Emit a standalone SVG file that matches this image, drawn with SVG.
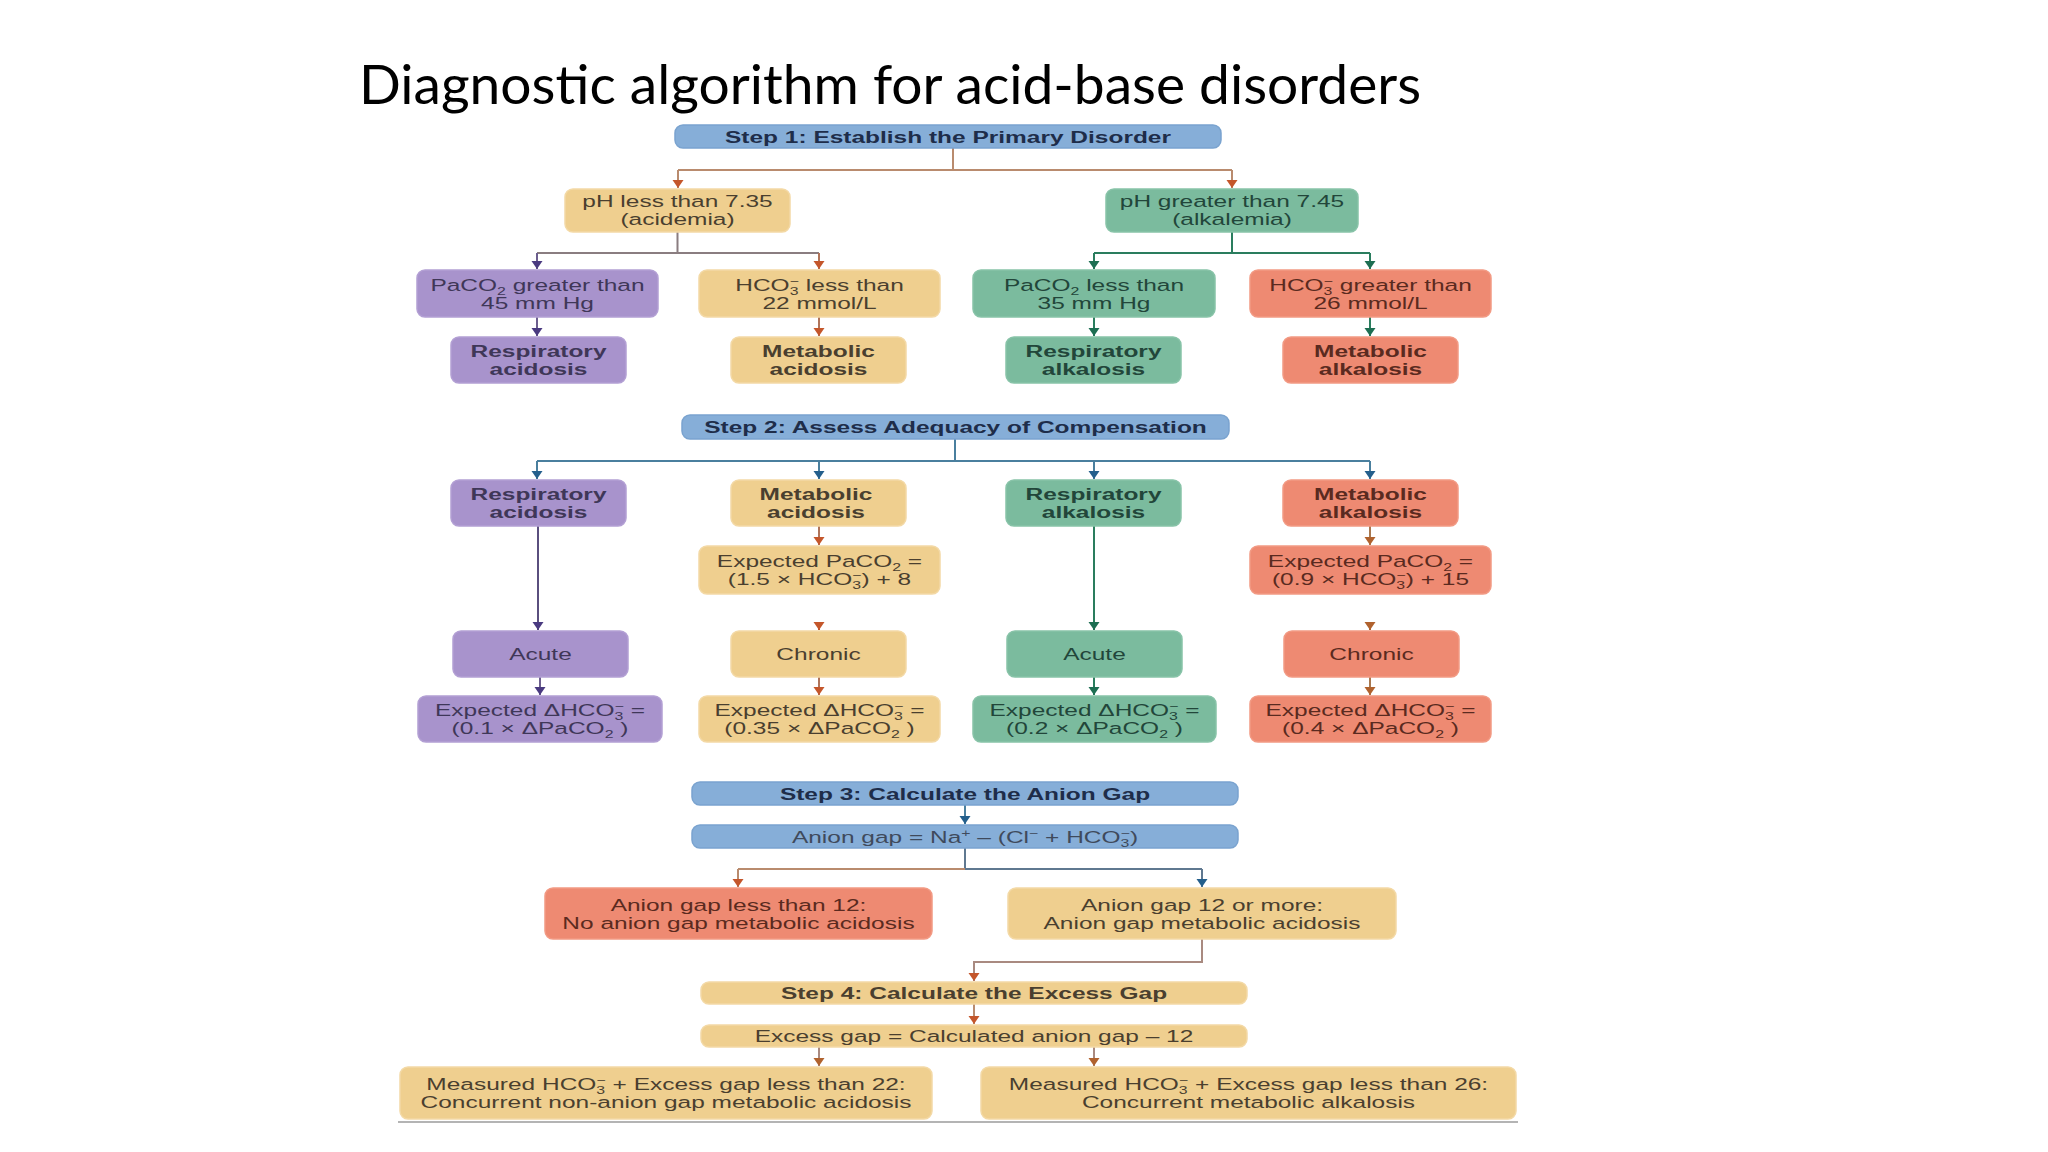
<svg xmlns="http://www.w3.org/2000/svg" width="2048" height="1152" viewBox="0 0 2048 1152">
<style>
.title{font-family:Lato,"Open Sans","Liberation Sans",sans-serif;font-size:55px;fill:#000}
.t{font-family:"Liberation Sans",Arial,sans-serif;font-size:17px;text-anchor:middle}
.b{font-weight:bold}
.s{font-size:11px}
.blue{fill:#86aed8;stroke:#7aa3cf;stroke-width:1.5}
.tan{fill:#efcf8f;stroke:#f3d9a6;stroke-width:1.5}
.pur{fill:#a893cc;stroke:#b3a0d4;stroke-width:1.5}
.grn{fill:#7bbb9e;stroke:#88c3a8;stroke-width:1.5}
.sal{fill:#ee8a72;stroke:#f29a84;stroke-width:1.5}
.tb{fill:#1e2d4a}
.tt{fill:#4a3f2f}
.tp{fill:#3f3758}
.tg{fill:#22463a}
.ts{fill:#5a2a20}
.tbr{fill:#3f4a5c}
.c{fill:none;stroke-width:2}
</style>
<defs>
<marker id="aO" markerUnits="userSpaceOnUse" markerWidth="12" markerHeight="12" refX="8" refY="5.5" orient="auto"><path d="M0,0 L8,5.5 L0,11 z" fill="#c4562b"/></marker>
<marker id="aP" markerUnits="userSpaceOnUse" markerWidth="12" markerHeight="12" refX="8" refY="5.5" orient="auto"><path d="M0,0 L8,5.5 L0,11 z" fill="#4a3a80"/></marker>
<marker id="aG" markerUnits="userSpaceOnUse" markerWidth="12" markerHeight="12" refX="8" refY="5.5" orient="auto"><path d="M0,0 L8,5.5 L0,11 z" fill="#1d6e52"/></marker>
<marker id="aB" markerUnits="userSpaceOnUse" markerWidth="12" markerHeight="12" refX="8" refY="5.5" orient="auto"><path d="M0,0 L8,5.5 L0,11 z" fill="#245f8c"/></marker>
<marker id="aBr" markerUnits="userSpaceOnUse" markerWidth="12" markerHeight="12" refX="8" refY="5.5" orient="auto"><path d="M0,0 L8,5.5 L0,11 z" fill="#b0622e"/></marker>
</defs>
<rect width="2048" height="1152" fill="#ffffff"/>
<text class="title" x="359" y="104" textLength="1062" lengthAdjust="spacingAndGlyphs">Diagnostic algorithm for acid-base disorders</text>

<g id="connectors">
<path class="c" stroke="#b98b6e" d="M953,148 V170 M678,170 H1232"/>
<path class="c" stroke="#b98b6e" d="M678,170 V188" marker-end="url(#aO)"/>
<path class="c" stroke="#b98b6e" d="M1232,170 V188" marker-end="url(#aO)"/>
<path class="c" stroke="#8a7d80" d="M677.5,232 V253 M537,253 H819"/>
<path class="c" stroke="#6c5e8e" d="M537,253 V269" marker-end="url(#aP)"/>
<path class="c" stroke="#b0745a" d="M819,253 V269" marker-end="url(#aO)"/>
<path class="c" stroke="#2a7d5e" d="M1232,232 V253 M1094,253 H1370"/>
<path class="c" stroke="#2a7d5e" d="M1094,253 V269" marker-end="url(#aG)"/>
<path class="c" stroke="#2a7d5e" d="M1370,253 V269" marker-end="url(#aG)"/>
<path class="c" stroke="#6c5e8e" d="M537,317 V336" marker-end="url(#aP)"/>
<path class="c" stroke="#b0745a" d="M819,317 V336" marker-end="url(#aO)"/>
<path class="c" stroke="#2a7d5e" d="M1094,317 V336" marker-end="url(#aG)"/>
<path class="c" stroke="#2a7d5e" d="M1370,317 V336" marker-end="url(#aG)"/>
<path class="c" stroke="#4a7f9e" d="M955,439 V461 M537,461 H1370"/>
<path class="c" stroke="#4a7f9e" d="M537,461 V479" marker-end="url(#aB)"/>
<path class="c" stroke="#4a7f9e" d="M819,461 V479" marker-end="url(#aB)"/>
<path class="c" stroke="#4a7f9e" d="M1094,461 V479" marker-end="url(#aB)"/>
<path class="c" stroke="#4a7f9e" d="M1370,461 V479" marker-end="url(#aB)"/>
<path class="c" stroke="#5a4f7e" d="M538,526 V630" marker-end="url(#aP)"/>
<path class="c" stroke="#b0745a" d="M819,526 V545" marker-end="url(#aO)"/>
<path class="c" stroke="#c4562b" d="M819,623 V630" marker-end="url(#aO)"/>
<path class="c" stroke="#2a7d5e" d="M1094,526 V630" marker-end="url(#aG)"/>
<path class="c" stroke="#a87850" d="M1370,526 V545" marker-end="url(#aBr)"/>
<path class="c" stroke="#b0622e" d="M1370,623 V630" marker-end="url(#aBr)"/>
<path class="c" stroke="#6c5e8e" d="M540,677 V695" marker-end="url(#aP)"/>
<path class="c" stroke="#b0745a" d="M819,677 V695" marker-end="url(#aO)"/>
<path class="c" stroke="#2a7d5e" d="M1094,677 V695" marker-end="url(#aG)"/>
<path class="c" stroke="#a87850" d="M1370,677 V695" marker-end="url(#aBr)"/>
<path class="c" stroke="#4a7f9e" d="M965,805 V824" marker-end="url(#aB)"/>
<path class="c" stroke="#5f7890" d="M965,848 V869 M965,869 H1202"/>
<path class="c" stroke="#b98b6e" d="M965,869 H738"/>
<path class="c" stroke="#b98b6e" d="M738,869 V887" marker-end="url(#aO)"/>
<path class="c" stroke="#5f7890" d="M1202,869 V887" marker-end="url(#aB)"/>
<path class="c" stroke="#a98a80" d="M1202,939 V962 H974 V981" marker-end="url(#aO)"/>
<path class="c" stroke="#b98b6e" d="M974,1004 V1024" marker-end="url(#aO)"/>
<path class="c" stroke="#a98a80" d="M819,1047 V1066" marker-end="url(#aBr)"/>
<path class="c" stroke="#a98a80" d="M1094,1047 V1066" marker-end="url(#aBr)"/>
<path d="M398,1122 H1518" stroke="#b4b4b4" stroke-width="2" fill="none"/>
</g>

<g id="step1"><rect class="blue" x="675" y="125" width="546" height="23" rx="8"/>
<text class="t b tb" transform="translate(948,142.5) scale(1.44,1)">Step 1: Establish the Primary Disorder</text></g>

<g id="ph-low"><rect class="tan" x="565" y="189" width="225" height="43" rx="8"/>
<text class="t tt" transform="translate(677.5,207) scale(1.44,1)">pH less than 7.35<tspan x="0" dy="18.3">(acidemia)</tspan></text></g>

<g id="ph-high"><rect class="grn" x="1106" y="189" width="252" height="43" rx="8"/>
<text class="t tg" transform="translate(1232,207) scale(1.44,1)">pH greater than 7.45<tspan x="0" dy="18.3">(alkalemia)</tspan></text></g>

<g id="paco2-high"><rect class="pur" x="417" y="270" width="241" height="47" rx="8"/>
<text class="t tp" transform="translate(537.5,290.5) scale(1.44,1)">PaCO<tspan class="s" dy="4">2</tspan><tspan dy="-4"> greater than</tspan><tspan x="0" dy="18.3">45 mm Hg</tspan></text></g>

<g id="hco3-low"><rect class="tan" x="699" y="270" width="241" height="47" rx="8"/>
<text class="t tt" transform="translate(819.5,290.5) scale(1.44,1)">HCO<tspan class="s" dy="4">3</tspan><tspan class="s" dx="-6" dy="-10">−</tspan><tspan dy="6"> less than</tspan><tspan x="0" dy="18.3">22 mmol/L</tspan></text></g>

<g id="paco2-low"><rect class="grn" x="973" y="270" width="242" height="47" rx="8"/>
<text class="t tg" transform="translate(1094,290.5) scale(1.44,1)">PaCO<tspan class="s" dy="4">2</tspan><tspan dy="-4">  less than</tspan><tspan x="0" dy="18.3">35 mm Hg</tspan></text></g>

<g id="hco3-high"><rect class="sal" x="1250" y="270" width="241" height="47" rx="8"/>
<text class="t ts" transform="translate(1370.5,290.5) scale(1.44,1)">HCO<tspan class="s" dy="4">3</tspan><tspan class="s" dx="-6" dy="-10">−</tspan><tspan dy="6"> greater than</tspan><tspan x="0" dy="18.3">26 mmol/L</tspan></text></g>

<g id="resp-acidosis-1"><rect class="pur" x="451" y="337" width="175" height="46" rx="8"/>
<text class="t b tp" transform="translate(538.5,357) scale(1.44,1)">Respiratory<tspan x="0" dy="18.3">acidosis</tspan></text></g>
<g id="met-acidosis-1"><rect class="tan" x="731" y="337" width="175" height="46" rx="8"/>
<text class="t b tt" transform="translate(818.5,357) scale(1.44,1)">Metabolic<tspan x="0" dy="18.3">acidosis</tspan></text></g>
<g id="resp-alkalosis-1"><rect class="grn" x="1006" y="337" width="175" height="46" rx="8"/>
<text class="t b tg" transform="translate(1093.5,357) scale(1.44,1)">Respiratory<tspan x="0" dy="18.3">alkalosis</tspan></text></g>
<g id="met-alkalosis-1"><rect class="sal" x="1283" y="337" width="175" height="46" rx="8"/>
<text class="t b ts" transform="translate(1370.5,357) scale(1.44,1)">Metabolic<tspan x="0" dy="18.3">alkalosis</tspan></text></g>

<g id="step2"><rect class="blue" x="682" y="415" width="547" height="24" rx="8"/>
<text class="t b tb" transform="translate(955.5,433) scale(1.44,1)">Step 2: Assess Adequacy of Compensation</text></g>

<g id="resp-acidosis-2"><rect class="pur" x="451" y="480" width="175" height="46" rx="8"/>
<text class="t b tp" transform="translate(538.5,500) scale(1.44,1)">Respiratory<tspan x="0" dy="18.3">acidosis</tspan></text></g>
<g id="met-acidosis-2"><rect class="tan" x="731" y="480" width="175" height="46" rx="8"/>
<text class="t b tt" transform="translate(816,500) scale(1.44,1)">Metabolic<tspan x="0" dy="18.3">acidosis</tspan></text></g>
<g id="resp-alkalosis-2"><rect class="grn" x="1006" y="480" width="175" height="46" rx="8"/>
<text class="t b tg" transform="translate(1093.5,500) scale(1.44,1)">Respiratory<tspan x="0" dy="18.3">alkalosis</tspan></text></g>
<g id="met-alkalosis-2"><rect class="sal" x="1283" y="480" width="175" height="46" rx="8"/>
<text class="t b ts" transform="translate(1370.5,500) scale(1.44,1)">Metabolic<tspan x="0" dy="18.3">alkalosis</tspan></text></g>

<g id="exp-paco2-ma"><rect class="tan" x="699" y="546" width="241" height="48" rx="8"/>
<text class="t tt" transform="translate(819.5,567) scale(1.44,1)">Expected PaCO<tspan class="s" dy="4">2</tspan><tspan dy="-4"> =</tspan><tspan x="0" dy="18.3">(1.5 × HCO</tspan><tspan class="s" dy="4">3</tspan><tspan class="s" dx="-6" dy="-10">−</tspan><tspan dy="6">) + 8</tspan></text></g>
<g id="exp-paco2-malk"><rect class="sal" x="1250" y="546" width="241" height="48" rx="8"/>
<text class="t ts" transform="translate(1370.5,567) scale(1.44,1)">Expected PaCO<tspan class="s" dy="4">2</tspan><tspan dy="-4"> =</tspan><tspan x="0" dy="18.3">(0.9 × HCO</tspan><tspan class="s" dy="4">3</tspan><tspan class="s" dx="-6" dy="-10">−</tspan><tspan dy="6">) + 15</tspan></text></g>

<g id="acute-ra"><rect class="pur" x="453" y="631" width="175" height="46" rx="8"/>
<text class="t tp" transform="translate(540.5,660) scale(1.44,1)">Acute</text></g>
<g id="chronic-ma"><rect class="tan" x="731" y="631" width="175" height="46" rx="8"/>
<text class="t tt" transform="translate(818.5,660) scale(1.44,1)">Chronic</text></g>
<g id="acute-ralk"><rect class="grn" x="1007" y="631" width="175" height="46" rx="8"/>
<text class="t tg" transform="translate(1094.5,660) scale(1.44,1)">Acute</text></g>
<g id="chronic-malk"><rect class="sal" x="1284" y="631" width="175" height="46" rx="8"/>
<text class="t ts" transform="translate(1371.5,660) scale(1.44,1)">Chronic</text></g>

<g id="exp-hco3-1"><rect class="pur" x="418" y="696" width="244" height="46" rx="8"/>
<text class="t tp" transform="translate(540,716) scale(1.44,1)">Expected ΔHCO<tspan class="s" dy="4">3</tspan><tspan class="s" dx="-6" dy="-10">−</tspan><tspan dy="6"> =</tspan><tspan x="0" dy="18.3">(0.1 × ΔPaCO</tspan><tspan class="s" dy="4">2</tspan><tspan dy="-4"> )</tspan></text></g>
<g id="exp-hco3-2"><rect class="tan" x="699" y="696" width="241" height="46" rx="8"/>
<text class="t tt" transform="translate(819.5,716) scale(1.44,1)">Expected ΔHCO<tspan class="s" dy="4">3</tspan><tspan class="s" dx="-6" dy="-10">−</tspan><tspan dy="6"> =</tspan><tspan x="0" dy="18.3">(0.35 × ΔPaCO</tspan><tspan class="s" dy="4">2</tspan><tspan dy="-4"> )</tspan></text></g>
<g id="exp-hco3-3"><rect class="grn" x="973" y="696" width="243" height="46" rx="8"/>
<text class="t tg" transform="translate(1094.5,716) scale(1.44,1)">Expected ΔHCO<tspan class="s" dy="4">3</tspan><tspan class="s" dx="-6" dy="-10">−</tspan><tspan dy="6"> =</tspan><tspan x="0" dy="18.3">(0.2 × ΔPaCO</tspan><tspan class="s" dy="4">2</tspan><tspan dy="-4"> )</tspan></text></g>
<g id="exp-hco3-4"><rect class="sal" x="1250" y="696" width="241" height="46" rx="8"/>
<text class="t ts" transform="translate(1370.5,716) scale(1.44,1)">Expected ΔHCO<tspan class="s" dy="4">3</tspan><tspan class="s" dx="-6" dy="-10">−</tspan><tspan dy="6"> =</tspan><tspan x="0" dy="18.3">(0.4 × ΔPaCO</tspan><tspan class="s" dy="4">2</tspan><tspan dy="-4"> )</tspan></text></g>

<g id="step3"><rect class="blue" x="692" y="782" width="546" height="23" rx="8"/>
<text class="t b tb" transform="translate(965,799.5) scale(1.44,1)">Step 3: Calculate the Anion Gap</text></g>
<g id="anion-gap"><rect class="blue" x="692" y="825" width="546" height="23" rx="8"/>
<text class="t tbr" transform="translate(965,842.5) scale(1.44,1)">Anion gap = Na<tspan class="s" dy="-6">+</tspan><tspan dy="6"> – (Cl</tspan><tspan class="s" dy="-6">−</tspan><tspan dy="6"> + HCO</tspan><tspan class="s" dy="4">3</tspan><tspan class="s" dx="-6" dy="-10">−</tspan><tspan dy="6">)</tspan></text></g>

<g id="ag-low"><rect class="sal" x="545" y="888" width="387" height="51" rx="8"/>
<text class="t ts" transform="translate(738.5,910.5) scale(1.44,1)">Anion gap less than 12:<tspan x="0" dy="18.3">No anion gap metabolic acidosis</tspan></text></g>
<g id="ag-high"><rect class="tan" x="1008" y="888" width="388" height="51" rx="8"/>
<text class="t tt" transform="translate(1202,910.5) scale(1.44,1)">Anion gap 12 or more:<tspan x="0" dy="18.3">Anion gap metabolic acidosis</tspan></text></g>

<g id="step4"><rect class="tan" x="701" y="982" width="546" height="22" rx="8"/>
<text class="t b tt" transform="translate(974,999) scale(1.44,1)">Step 4: Calculate the Excess Gap</text></g>
<g id="excess-gap"><rect class="tan" x="701" y="1025" width="546" height="22" rx="8"/>
<text class="t tt" transform="translate(974,1042) scale(1.44,1)">Excess gap = Calculated anion gap – 12</text></g>

<g id="result-left"><rect class="tan" x="400" y="1067" width="532" height="52" rx="8"/>
<text class="t tt" transform="translate(666,1090) scale(1.44,1)">Measured HCO<tspan class="s" dy="4">3</tspan><tspan class="s" dx="-6" dy="-10">−</tspan><tspan dy="6"> + Excess gap less than 22:</tspan><tspan x="0" dy="18.3">Concurrent non-anion gap metabolic acidosis</tspan></text></g>
<g id="result-right"><rect class="tan" x="981" y="1067" width="535" height="52" rx="8"/>
<text class="t tt" transform="translate(1248.5,1090) scale(1.44,1)">Measured HCO<tspan class="s" dy="4">3</tspan><tspan class="s" dx="-6" dy="-10">−</tspan><tspan dy="6"> + Excess gap less than 26:</tspan><tspan x="0" dy="18.3">Concurrent metabolic alkalosis</tspan></text></g>
</svg>
